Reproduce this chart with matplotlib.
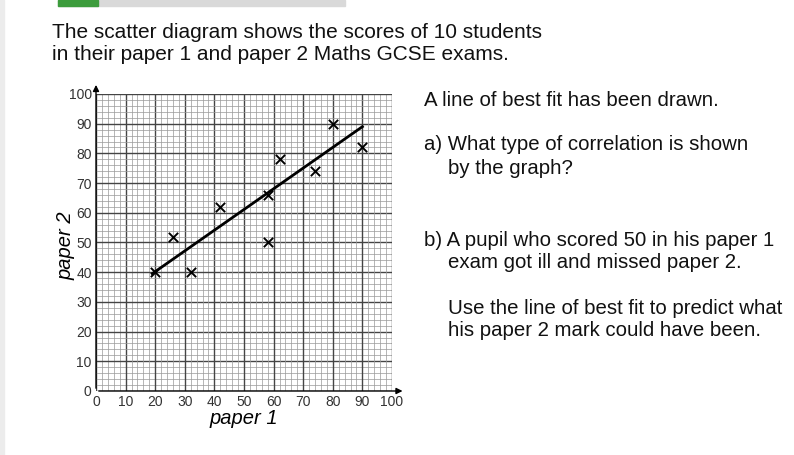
import matplotlib.pyplot as plt
import matplotlib.patches as mpatches

# scores
paper1 = [20, 26, 32, 42, 58, 58, 62, 74, 80, 90]
paper2 = [40, 52, 40, 62, 66, 50, 78, 74, 90, 82]

# line of best fit end points
fit_x = [19, 90]
fit_y = [39.5, 89]

xticks = [0, 10, 20, 30, 40, 50, 60, 70, 80, 90, 100]
yticks = [10, 20, 30, 40, 50, 60, 70, 80, 90, 100]

plt.rcParams['font.family'] = ['Liberation Sans', 'DejaVu Sans']

fig = plt.figure(figsize=(7.94, 4.55), dpi=100)
H = 455.0
W = 794.0

# grey progress bar at the top
fig.patches.append(mpatches.Rectangle((58/W, 1 - 6/H), 287/W, 6/H,
                                      transform=fig.transFigure, color="#d9d9d9", zorder=0))
fig.patches.append(mpatches.Rectangle((58/W, 1 - 6/H), 40/W, 6/H,
                                      transform=fig.transFigure, color="#3c9c3c", zorder=1))
fig.patches.append(mpatches.Rectangle((0, 0), 4/W, 1,
                                      transform=fig.transFigure, color="#ececec", zorder=0))

fig.text(52/W, 1 - 32/H, "The scatter diagram shows the scores of 10 students",
         fontsize=15, va="center", ha="left", color="#111111")
fig.text(52/W, 1 - 55/H, "in their paper 1 and paper 2 Maths GCSE exams.",
         fontsize=15, va="center", ha="left", color="#111111")

ax = fig.add_axes([96/W, 64/H, 296/W, 297/H])
ax.set_xlim(0, 100)
ax.set_ylim(0, 100)

# graph paper grid
for v in range(0, 101, 2):
    lw = 1.0 if v % 10 == 0 else 0.5
    c = "#444444" if v % 10 == 0 else "#999999"
    ax.axvline(v, color=c, lw=lw, zorder=1)
    ax.axhline(v, color=c, lw=lw, zorder=1)

ax.plot(fit_x, fit_y, color="black", lw=2, zorder=3)
ax.scatter(paper1, paper2, marker="x", color="black", s=45, linewidths=1.4, zorder=4)

for s in ax.spines.values():
    s.set_visible(False)
ax.set_xticks(xticks)
ax.set_yticks(yticks)
ax.tick_params(length=0, labelsize=10, colors="#333333", pad=3)
ax.text(-1.6, -0.5, "0", ha="right", va="center", fontsize=10, color="#333333")

# axis arrows
ax.annotate("", xy=(0, 104), xytext=(0, 0), xycoords="data",
            arrowprops=dict(arrowstyle="-|>", color="black", lw=1, mutation_scale=9),
            annotation_clip=False)
ax.annotate("", xy=(104.5, 0), xytext=(0, 0), xycoords="data",
            arrowprops=dict(arrowstyle="-|>", color="black", lw=1, mutation_scale=9),
            annotation_clip=False)

ax.set_xlabel("paper 1", fontsize=14.5, style="italic", labelpad=0)
ax.text(-0.10, 0.49, "paper 2", transform=ax.transAxes, rotation=90,
        fontsize=14.5, style="italic", ha="center", va="center")

# question text, one line at a time
q_lines = ["A line of best fit has been drawn.",
           "a) What type of correlation is shown",
           "by the graph?",
           "b) A pupil who scored 50 in his paper 1",
           "exam got ill and missed paper 2.",
           "Use the line of best fit to predict what",
           "his paper 2 mark could have been."]
q_y = [100, 145, 169, 240, 263, 308, 331]
q_x = [424, 424, 448, 424, 448, 448, 448]
for txt, yy, xx in zip(q_lines, q_y, q_x):
    fig.text(xx/W, 1 - yy/H, txt, fontsize=14.7, va="center", ha="left", color="#111111")

fig.savefig("out.png", dpi=100)
